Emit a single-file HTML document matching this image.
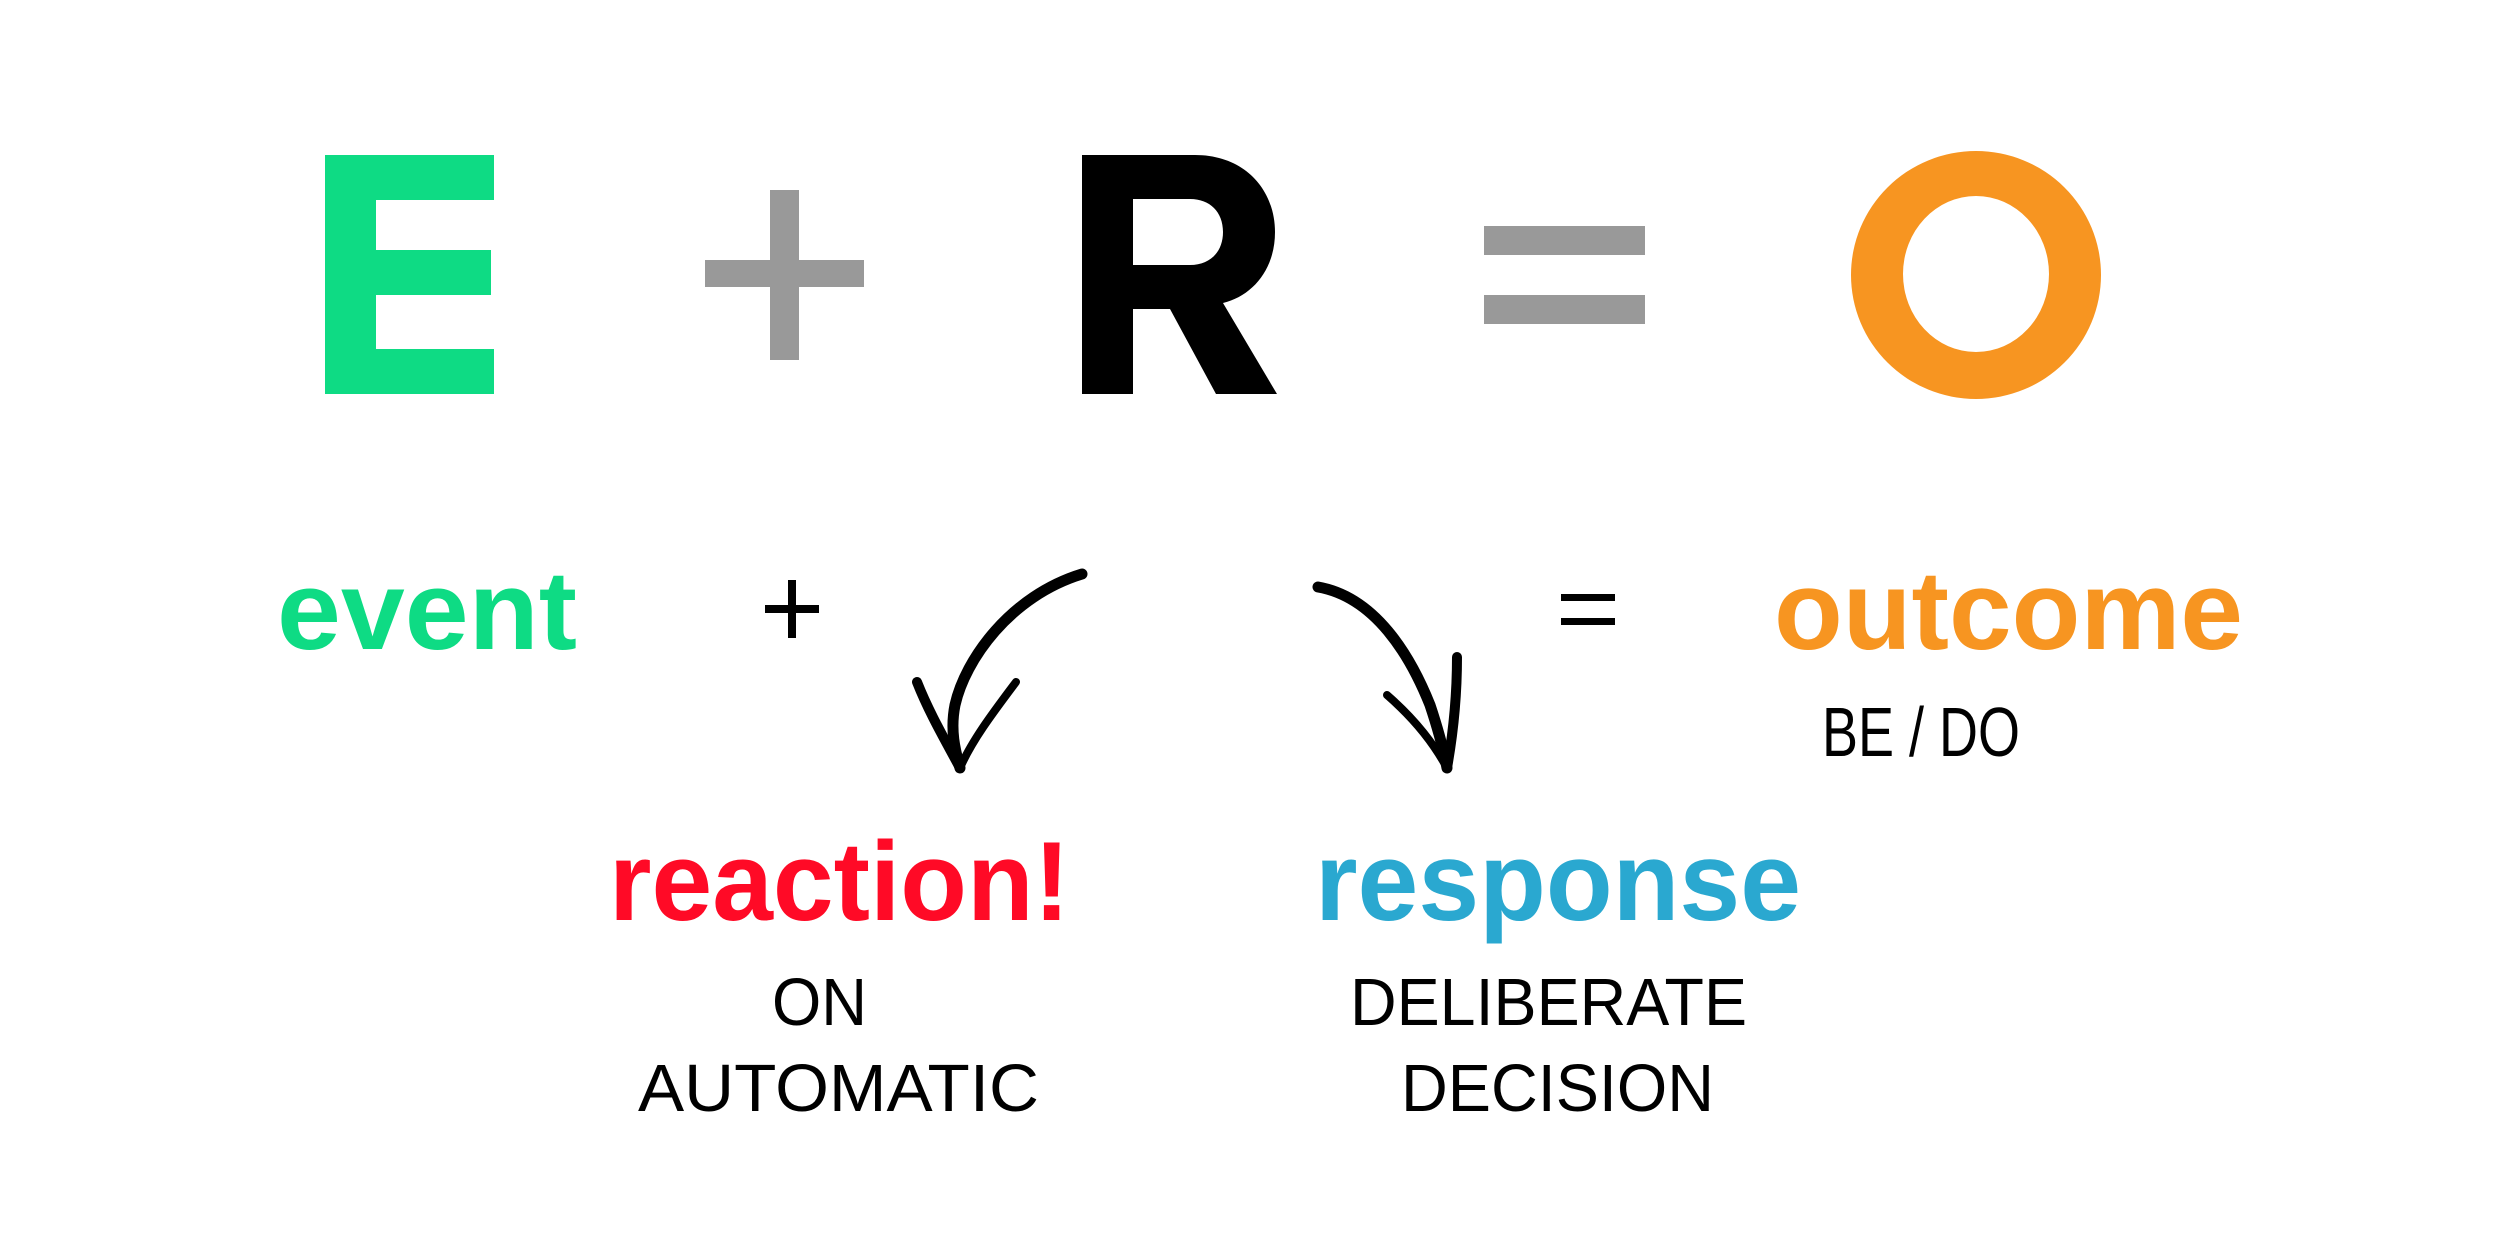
<!DOCTYPE html>
<html><head><meta charset="utf-8"><style>
html,body{margin:0;padding:0;background:#fff;}
svg{display:block;}
text{font-family:"Liberation Sans",sans-serif;}
</style></head><body>
<svg width="2500" height="1258" viewBox="0 0 2500 1258" xmlns="http://www.w3.org/2000/svg">
<rect width="2500" height="1258" fill="#fff"/>
<g fill="#0edb84">
<rect x="325" y="155" width="51" height="239"/>
<rect x="325" y="155" width="169" height="45"/>
<rect x="325" y="250" width="166" height="45"/>
<rect x="325" y="349" width="169" height="45"/>
</g>
<g fill="#999">
<rect x="770" y="190" width="29" height="170"/>
<rect x="705" y="260" width="159" height="27"/>
<rect x="1484" y="226" width="161" height="29"/>
<rect x="1484" y="295" width="161" height="29"/>
</g>
<path fill="#000" fill-rule="evenodd" d="M1082 155 H1195 C1245 155 1275 190 1275 232 C1275 270 1252 296 1223 303 L1277 394 H1216 L1170 309 H1133 V394 H1082 Z M1133 199 V265 H1190 C1210 265 1223 252 1223 232 C1223 212 1210 199 1190 199 Z"/>
<path fill="#f79521" fill-rule="evenodd" d="M1851 275 A125 124 0 1 0 2101 275 A125 124 0 1 0 1851 275 Z M1903 274 A73 78 0 1 1 2049 274 A73 78 0 1 1 1903 274 Z"/>

<text x="277" y="649" font-size="112" font-weight="bold" fill="#0edb84" textLength="300" lengthAdjust="spacingAndGlyphs">event</text>
<g fill="#000">
<rect x="788" y="580" width="8" height="58"/>
<rect x="765" y="605" width="54" height="8"/>
<rect x="1561" y="594" width="54" height="7"/>
<rect x="1561" y="618" width="54" height="7"/>
</g>
<text x="1774" y="649" font-size="112" font-weight="bold" fill="#f79521" textLength="469" lengthAdjust="spacingAndGlyphs">outcome</text>
<text x="1822" y="756" font-size="70" fill="#000" textLength="198" lengthAdjust="spacingAndGlyphs">BE / DO</text>

<g fill="none" stroke="#000" stroke-linecap="round" stroke-linejoin="round">
<path d="M1082 574 C1010 596 965 660 955 705 C950 730 955 750 960 768" stroke-width="11"/>
<path d="M917 682 C930 715 948 745 960 768" stroke-width="10"/>
<path d="M1016 682 C995 710 972 740 960 768" stroke-width="8"/>
<path d="M1318 587 C1375 597 1410 655 1430 705 C1440 735 1444 752 1447 768" stroke-width="11"/>
<path d="M1457 657 C1457 700 1452 740 1447 768" stroke-width="10"/>
<path d="M1387 695 C1410 715 1432 740 1447 768" stroke-width="8"/>
</g>

<text x="609" y="920" font-size="112" font-weight="bold" fill="#ff0a26" textLength="461" lengthAdjust="spacingAndGlyphs">reaction!</text>
<text x="1315" y="920" font-size="112" font-weight="bold" fill="#2aa8d0" textLength="486" lengthAdjust="spacingAndGlyphs">response</text>

<g font-size="67" fill="#000">
<text x="772" y="1025" textLength="95" lengthAdjust="spacingAndGlyphs">ON</text>
<text x="638" y="1111" textLength="401" lengthAdjust="spacingAndGlyphs">AUTOMATIC</text>
<text x="1350" y="1025" textLength="397" lengthAdjust="spacingAndGlyphs">DELIBERATE</text>
<text x="1401" y="1111" textLength="313" lengthAdjust="spacingAndGlyphs">DECISION</text>
</g>
</svg>
</body></html>
